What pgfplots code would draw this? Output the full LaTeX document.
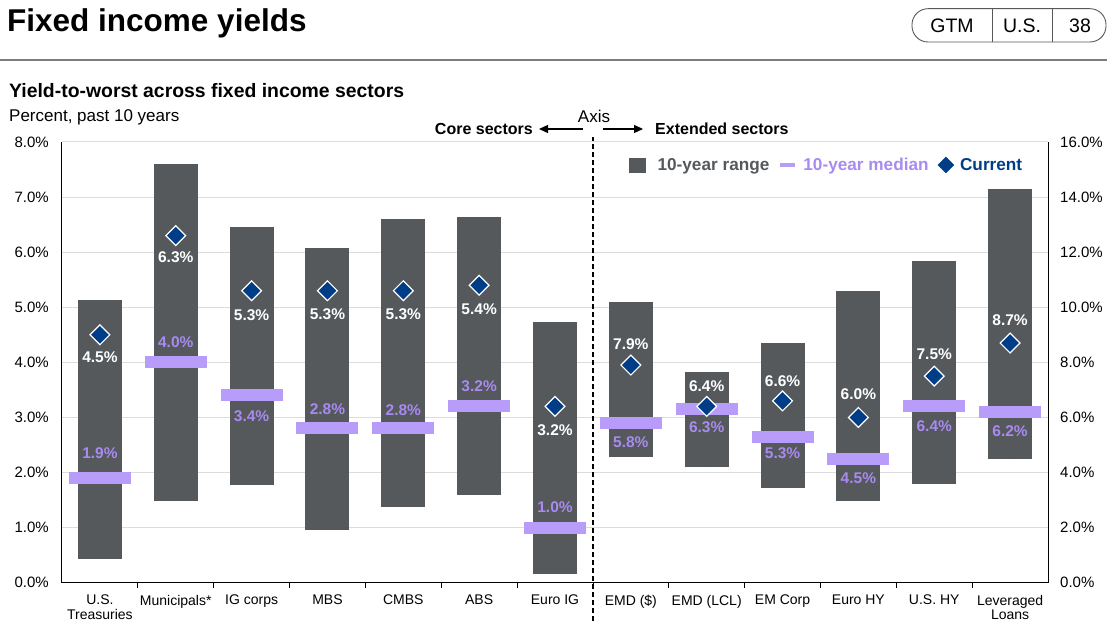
\documentclass[border=0pt]{standalone}
\usepackage{pgfplots}
\pgfplotsset{compat=1.18}
\usepackage{pgfplotstable}
\usepackage{fontspec}
\setmainfont{Liberation Sans}
\usetikzlibrary{arrows.meta}
\pgfplotsset{/pgf/number format/assume math mode=true}

\definecolor{rangegrey}{RGB}{85,89,92}
\definecolor{medcol}{RGB}{183,156,250}
\definecolor{medtxt}{RGB}{168,138,240}
\definecolor{navy}{RGB}{0,61,135}
\definecolor{gridgrey}{RGB}{220,220,220}
\definecolor{rulegrey}{RGB}{125,125,125}

% core sectors (left axis, 0-8%)
\pgfplotstableread{
x low high med cur moff coff
0 0.43 5.13 1.9 4.5 25 -22
1 1.48 7.60 4.0 6.3 20 -22
2 1.77 6.45 3.4 5.3 -21 -24
3 0.96 6.07 2.8 5.3 19 -23
4 1.38 6.60 2.8 5.3 18 -23
5 1.60 6.64 3.2 5.4 20 -24
6 0.16 4.73 1.0 3.2 20 -24
}\core
% extended sectors (right axis, 0-16%)
\pgfplotstableread{
x low high med cur moff coff
7 4.57 10.18 5.8 7.9 -19 21
8 4.19 7.64 6.3 6.4 -18 20
9 3.43 8.69 5.3 6.6 -16 20
10 2.97 10.60 4.5 6.0 -19 23
11 3.58 11.69 6.4 7.5 -20 22
12 4.48 14.28 6.2 8.7 -19 23
}\ext

\pgfplotsset{
  fyaxis/.style={
    at={(62pt,38.3pt)}, anchor=south west, scale only axis,
    width=986pt, height=440.7pt, xmin=-0.5, xmax=12.5,
    ymin=0, clip=false,
    axis line style={black, line width=1pt},
    tick label style={font=\fontsize{15}{18}\selectfont},
    ytick style={draw=none},
  },
  rangebars/.style={only marks, mark=*, mark size=0pt,
    mark options={draw=none, fill=none}, forget plot,
    error bars/.cd, y dir=plus, y explicit, error mark=none,
    error bar style={line width=44pt, draw=rangegrey}},
  medmarks/.style={only marks, mark=-, mark size=31pt, forget plot,
    mark options={line width=12pt, draw=medcol},
    visualization depends on={\thisrow{moff} \as \moff},
    nodes near coords={\pgfmathprintnumber[fixed,fixed zerofill,precision=1]{\pgfplotspointmeta}\%},
    every node near coord/.append style={anchor=center, yshift=\moff pt,
      text=medtxt, font=\fontsize{15.5}{18}\selectfont\bfseries, inner sep=0pt}},
  curmarks/.style={only marks, mark=square*, mark size=7pt, forget plot,
    mark options={rotate=45, fill=navy, draw=white, line width=1.2pt},
    visualization depends on={\thisrow{coff} \as \coff},
    nodes near coords={\pgfmathprintnumber[fixed,fixed zerofill,precision=1]{\pgfplotspointmeta}\%},
    every node near coord/.append style={anchor=center, yshift=\coff pt,
      text=white, font=\fontsize{15.5}{18}\selectfont\bfseries, inner sep=0pt}},
}

\begin{document}
\begin{tikzpicture}[x=1pt, y=1pt]
\useasboundingbox (0,0) rectangle (1107,621);

% header
\node[anchor=base west, inner sep=0pt, font=\fontsize{31.5}{36}\selectfont\bfseries] at (7,589) {Fixed income yields};
\draw[rulegrey, line width=1.5pt] (0,561) -- (1107,561);
\draw[rangegrey, line width=0.9pt, rounded corners=16pt] (912,579) rectangle (1106,612.3);
\draw[rangegrey, line width=0.9pt] (992,579) -- (992,612.3) (1052,579) -- (1052,612.3);
\node[anchor=base, inner sep=0pt, font=\fontsize{19.5}{22}\selectfont] at (952,588) {GTM};
\node[anchor=base, inner sep=0pt, font=\fontsize{19.5}{22}\selectfont] at (1022,588) {U.S.};
\node[anchor=base, inner sep=0pt, font=\fontsize{19.5}{22}\selectfont] at (1080,588) {38};

\node[anchor=base west, inner sep=0pt, font=\fontsize{19.4}{22}\selectfont\bfseries] at (9,523) {Yield-to-worst across fixed income sectors};
\node[anchor=base west, inner sep=0pt, font=\fontsize{17}{20}\selectfont] at (9,499) {Percent, past 10 years};
\node[anchor=base, inner sep=0pt, font=\fontsize{17}{20}\selectfont] at (594,498) {Axis};
\node[anchor=base east, inner sep=0pt, font=\fontsize{16}{19}\selectfont\bfseries] at (533,486) {Core sectors};
\node[anchor=base west, inner sep=0pt, font=\fontsize{16}{19}\selectfont\bfseries] at (655,486) {Extended sectors};
\draw[line width=1.3pt, -{Triangle[length=9pt, width=8pt]}] (583,492) -- (539,492);
\draw[line width=1.3pt, -{Triangle[length=9pt, width=8pt]}] (603,492) -- (643,492);

% core sectors axis
\begin{axis}[fyaxis, ymax=8,
  axis x line*=bottom, axis y line*=left,
  ymajorgrids, grid style={gridgrey, line width=1pt},
  ytick={0,1,...,8},
  yticklabel={\pgfmathprintnumber[fixed,fixed zerofill,precision=1]{\tick}\%},
  yticklabel style={inner sep=0pt, xshift=-13pt},
  xtick={0,1,...,12},
  xticklabels={{U.S.\\Treasuries}, Municipals*, IG corps, MBS, CMBS, ABS, Euro IG,
    EMD (\$), EMD (LCL), EM Corp, Euro HY, U.S. HY, {Leveraged\\Loans}},
  xticklabel style={font=\fontsize{14}{14.5}\selectfont, align=center, inner sep=0pt, yshift=-8pt},
  major x tick style={draw=none},
  minor xtick={0.5,1.5,...,11.5},
  minor x tick style={black, line width=0.8pt},
  minor tick length=5pt, xtick align=outside,
]
\addplot[rangebars] table[x=x, y=low, y error expr=\thisrow{high}-\thisrow{low}] {\core};
\addplot[medmarks] table[x=x, y=med] {\core};
\addplot[curmarks] table[x=x, y=cur] {\core};
\end{axis}

% extended sectors axis
\begin{axis}[fyaxis, ymax=16,
  axis x line=none, axis y line*=right,
  xtick=\empty,
  ytick={0,2,...,16},
  yticklabel={\pgfmathprintnumber[fixed,fixed zerofill,precision=1]{\tick}\%},
  yticklabel style={inner sep=0pt, anchor=west, xshift=12pt},
  legend style={at={(0.575,0.948)}, anchor=west, draw=none, fill=none, inner sep=0pt,
    font=\fontsize{17.2}{20}\selectfont\bfseries, legend columns=3,
    /tikz/every odd column/.append style={column sep=4pt},
    /tikz/every even column/.append style={column sep=7pt}},
  legend cell align=left,
]
\addlegendimage{legend image code/.code={\fill[rangegrey] (0pt,-7pt) rectangle (16pt,7pt); \path (22pt,0pt);}}
\addlegendentry{\textcolor{rangegrey}{10-year range}}
\addlegendimage{legend image code/.code={\draw[medcol, line width=4pt] (0pt,0pt) -- (15pt,0pt);}}
\addlegendentry{\textcolor{medtxt}{10-year median}}
\addlegendimage{legend image code/.code={\fill[navy] (8pt,8pt) -- (16pt,0pt) -- (8pt,-8pt) -- (0pt,0pt) -- cycle;}}
\addlegendentry{\textcolor{navy}{Current}}
\addplot[rangebars] table[x=x, y=low, y error expr=\thisrow{high}-\thisrow{low}] {\ext};
\addplot[medmarks] table[x=x, y=med] {\ext};
\addplot[curmarks] table[x=x, y=cur] {\ext};
\end{axis}

\draw[black, line width=1.2pt, dash pattern=on 5pt off 3pt] (593,0) -- (593,484);
\end{tikzpicture}
\end{document}
